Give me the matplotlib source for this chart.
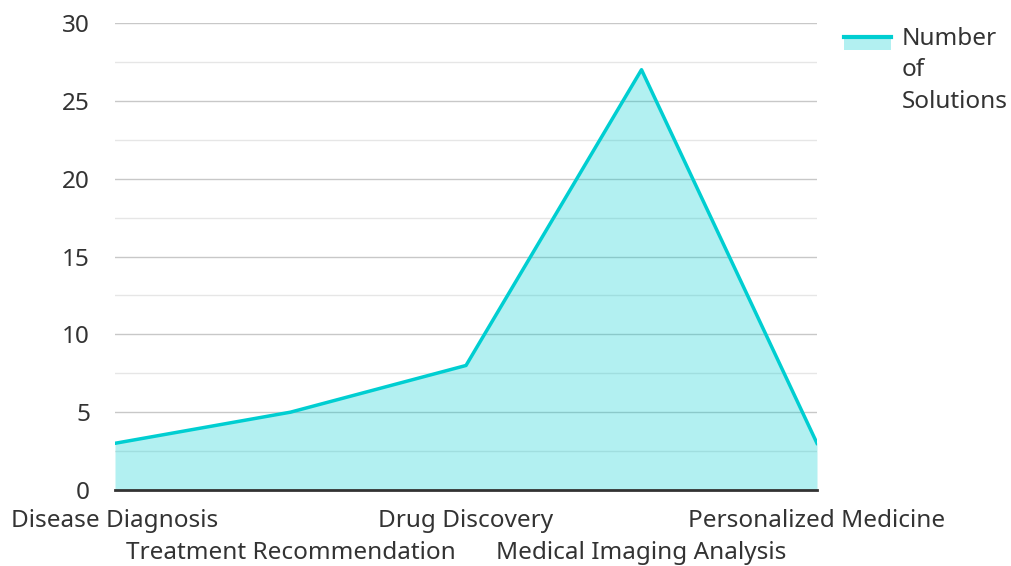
import matplotlib.pyplot as plt
from matplotlib.ticker import MultipleLocator, FixedLocator
from matplotlib.patches import Rectangle
from matplotlib.lines import Line2D
from matplotlib.legend_handler import HandlerBase

plt.rcParams['font.family'] = ['Noto Sans', 'DejaVu Sans']

categories = ['Disease Diagnosis', 'Treatment Recommendation', 'Drug Discovery',
              'Medical Imaging Analysis', 'Personalized Medicine']
solutions = [3, 5, 8, 27, 3]

line_color = '#00CED1'
text_color = '#333333'
fs = 17.5


class AreaHandler(HandlerBase):
    # line along the top edge of a light filled box, lifted to the first text row
    def __init__(self, lift=0, **kw):
        super().__init__(**kw)
        self.lift = lift

    def create_artists(self, legend, orig_handle, xdescent, ydescent,
                       width, height, fontsize, trans):
        y0 = -ydescent + self.lift
        box = Rectangle((-xdescent, y0), width, height * 0.75,
                        facecolor=line_color, alpha=0.3, linewidth=0, transform=trans)
        ln = Line2D([-xdescent, -xdescent + width], [y0 + height * 0.75] * 2,
                    color=line_color, linewidth=3, transform=trans)
        return [box, ln]


fig = plt.figure(figsize=(10.12, 5.66), dpi=100)
ax = fig.add_axes([115 / 1012, 1 - 490 / 566, 702 / 1012, 467 / 566])

x = list(range(len(categories)))
ax.fill_between(x, solutions, 0, color=line_color, alpha=0.3, linewidth=0, zorder=2)
area_line, = ax.plot(x, solutions, color=line_color, linewidth=2.5, zorder=3)

ax.set_xlim(0, len(categories) - 1)
ax.set_ylim(0, 30)
ax.yaxis.set_major_locator(MultipleLocator(5))
ax.yaxis.set_minor_locator(MultipleLocator(2.5))
ax.grid(axis='y', which='major', color='#c8c8c8', linewidth=1, zorder=0)
ax.grid(axis='y', which='minor', color='#e6e6e6', linewidth=1, zorder=0)
ax.set_axisbelow(True)

for side in ['top', 'right', 'left']:
    ax.spines[side].set_visible(False)
ax.spines['bottom'].set_color(text_color)
ax.spines['bottom'].set_linewidth(2)
ax.spines['bottom'].set_zorder(4)

# staggered category labels: even ones on the first row, odd ones below
even = [i for i in x if i % 2 == 0]
odd = [i for i in x if i % 2 == 1]
ax.xaxis.set_major_locator(FixedLocator(even))
ax.xaxis.set_minor_locator(FixedLocator(odd))
ax.set_xticklabels([categories[i] for i in even], fontsize=fs, color=text_color)
ax.set_xticklabels([categories[i] for i in odd], minor=True, fontsize=fs, color=text_color)
ax.tick_params(axis='x', which='major', length=0, pad=13.5)
ax.tick_params(axis='x', which='minor', length=0, pad=36.5)
ax.tick_params(axis='y', which='both', length=0, labelsize=fs, labelcolor=text_color, pad=18)

leg = ax.legend([area_line], ['Number\nof\nSolutions'], loc='upper left',
                bbox_to_anchor=(1.008, 1.0386), frameon=False, fontsize=fs,
                handlelength=1.9, handletextpad=0.45, labelcolor=text_color,
                handler_map={Line2D: AreaHandler(lift=21.5)})
leg.get_texts()[0].set_linespacing(1.42)

fig.savefig('out.png', dpi=100)
